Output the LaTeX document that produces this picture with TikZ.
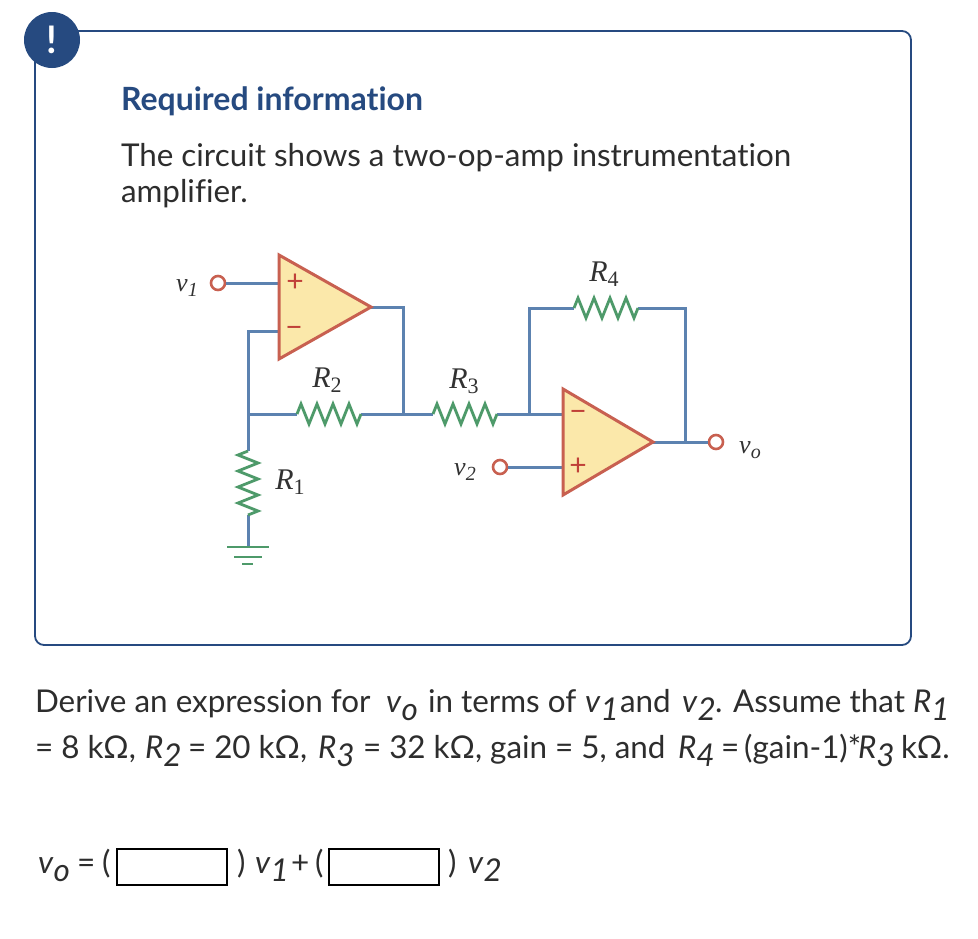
\documentclass[tikz,border=0pt]{standalone}
\usepackage{fontspec}
\setmainfont{Lato}[Ligatures=NoCommon]
\newfontfamily\labelfont{Liberation Serif}
\usetikzlibrary{decorations.pathmorphing}
\newcommand{\symb}[2]{\textit{#1}\raisebox{-8pt}{\textit{#2}}}
\newcommand{\clabel}[2]{{\labelfont\itshape #1\raisebox{-5pt}{\fontsize{22}{22}\selectfont\upshape #2}}}
\newcommand{\vlabel}[2]{{\labelfont\itshape\fontsize{26}{26}\selectfont #1\raisebox{-5pt}{\fontsize{20}{20}\selectfont #2}}}
\tikzset{
  wire/.style={draw=wireColor,line width=3pt,line join=miter},
  resistor/.style={draw=resColor,line width=2.8pt,decorate,decoration={zigzag,segment length=16pt,amplitude=10pt}},
  groundbar/.style={draw=resColor,line width=2.2pt},
  opamp/.style={draw=opColor,fill=opFill,line width=3pt,line join=miter},
  terminal/.style={circle,draw=opColor,fill=white,line width=2.6pt,minimum size=14pt,inner sep=0pt},
  sign/.style={text=signColor,inner sep=0pt,outer sep=0pt,font=\fontsize{30}{30}\selectfont},
  body/.style={text=textColor,anchor=base west,inner sep=0pt,outer sep=0pt,font=\fontsize{31.4}{31.4}\selectfont},
  circlabel/.style={text=labelColor,anchor=base,inner sep=0pt,outer sep=0pt,font=\fontsize{30}{30}\selectfont},
  answerbox/.style={draw=black,line width=1.5pt}
}
\begin{document}
\begin{tikzpicture}[x=1pt,y=-1pt]
\definecolor{frameColor}{RGB}{38,74,128}
\definecolor{wireColor}{RGB}{92,130,176}
\definecolor{resColor}{RGB}{78,154,106}
\definecolor{opColor}{RGB}{200,96,80}
\definecolor{signColor}{RGB}{192,64,56}
\definecolor{opFill}{RGB}{251,232,170}
\definecolor{textColor}{RGB}{45,45,45}
\definecolor{labelColor}{RGB}{50,50,50}
\path[use as bounding box,fill=white] (0,0) rectangle (978,938);

\path[draw=frameColor,line width=1.8pt,rounded corners=9pt] (35,31) rectangle (911,645);
\node[circle,fill=frameColor,minimum size=56pt,inner sep=0pt] (alert) at (52,40) {};
\node[text=white,inner sep=0pt,font=\fontsize{38}{38}\selectfont\bfseries] (mark) at (52,40) {!};

\node[text=frameColor,anchor=base west,inner sep=0pt,outer sep=0pt,font=\fontsize{32}{32}\selectfont\bfseries] (title) at (121,110) {Required information};
\node[body] (intro) at (121,166) {The circuit shows a two-op-amp instrumentation};
\node[body] (introb) at (121,202) {amplifier.};

\coordinate (opatop) at (279,255);
\coordinate (opabot) at (279,359);
\coordinate (opatip) at (371,307);
\coordinate (opaplus) at (279,283);
\coordinate (opaminus) at (279,331);
\coordinate (opbtop) at (563,389);
\coordinate (opbbot) at (563,495);
\coordinate (opbtip) at (653,442);
\coordinate (opbminus) at (563,414);
\coordinate (opbplus) at (563,467);

\coordinate (nodeneg) at (248,414);
\coordinate (cornerneg) at (248,331);
\coordinate (rawest) at (248,451);
\coordinate (raeast) at (248,515);
\coordinate (gnd) at (248,547);
\coordinate (rbwest) at (297,414);
\coordinate (rbeast) at (361,414);
\coordinate (nodemid) at (403,414);
\coordinate (cornermid) at (403,307);
\coordinate (rcwest) at (433,414);
\coordinate (rceast) at (497,414);
\coordinate (nodefb) at (529,414);
\coordinate (cornerfb) at (529,308);
\coordinate (rdwest) at (574,308);
\coordinate (rdeast) at (638,308);
\coordinate (cornerout) at (685,308);
\coordinate (nodeout) at (685,442);

\node[terminal] (vone) at (218,283) {};
\node[terminal] (vtwo) at (500,467) {};
\node[terminal] (vout) at (716,442) {};

\path[wire] (vone) -- (opaplus);
\path[wire] (opaminus) -- (cornerneg) -- (rawest);
\path[wire] (raeast) -- (gnd);
\path[wire] (nodeneg) -- (rbwest);
\path[wire] (rbeast) -- (rcwest);
\path[wire] (opatip) -- (cornermid) -- (nodemid);
\path[wire] (rceast) -- (opbminus);
\path[wire] (nodefb) -- (cornerfb) -- (rdwest);
\path[wire] (rdeast) -- (cornerout) -- (nodeout);
\path[wire] (vtwo) -- (opbplus);
\path[wire] (opbtip) -- (vout);

\path[resistor,decoration={mirror}] (rawest) -- (raeast);
\path[resistor] (rbwest) -- (rbeast);
\path[resistor] (rcwest) -- (rceast);
\path[resistor] (rdwest) -- (rdeast);

\path[groundbar] (227,547) -- (269,547);
\path[groundbar] (234,557) -- (262,557);
\path[groundbar] (242,564) -- (253,564);

\path[opamp] (opatop) -- (opatip) -- (opabot) -- cycle;
\path[opamp] (opbtop) -- (opbtip) -- (opbbot) -- cycle;
\node[sign] (plusa) at (295,283) {+};
\node[sign] (minusa) at (294,332) {−};
\node[sign] (minusb) at (578,416) {−};
\node[sign] (plusb) at (578,467) {+};

\node[circlabel] (labvone) at (187,291) {\vlabel{v}{1}};
\node[circlabel] (labvtwo) at (465,475) {\vlabel{v}{2}};
\node[circlabel] (labvout) at (750,453) {\vlabel{v}{o}};
\node[circlabel] (labra) at (290,489) {\clabel{R}{1}};
\node[circlabel] (labrb) at (327,387) {\clabel{R}{2}};
\node[circlabel] (labrc) at (464,388) {\clabel{R}{3}};
\node[circlabel] (labrd) at (604,281) {\clabel{R}{4}};

\node[body] (derive) at (35,712) {Derive an expression for};
\node[body] (lvo) at (386,712) {\symb{v}{o}};
\node[body] (terms) at (428,712) {in terms of};
\node[body] (lvone) at (585,712) {\symb{v}{1}};
\node[body] (andw) at (620,712) {and};
\node[body] (lvtwo) at (682,712) {\symb{v}{2}};
\node[body] (assume) at (715,712) {. Assume that};
\node[body] (lra) at (913,712) {\symb{R}{1}};

\node[body] (eqa) at (35,758) {= 8 kΩ,};
\node[body] (lrb) at (145,758) {\symb{R}{2}};
\node[body] (eqb) at (188,758) {= 20 kΩ,};
\node[body] (lrc) at (318,758) {\symb{R}{3}};
\node[body] (eqc) at (363,758) {= 32 kΩ, gain = 5, and};
\node[body] (lrd) at (678,758) {\symb{R}{4}};
\node[body] (eqd) at (721,758) {=\hspace{5pt}(gain-1)*};
\node[body] (lre) at (858,758) {\symb{R}{3}};
\node[body] (eqe) at (901,758) {kΩ.};

\node[body] (ansvo) at (38,873) {\symb{v}{o}};
\node[body] (anseq) at (77,873) {=};
\node[body] (ansopa) at (102,873) {(};
\path[answerbox] (117,849) rectangle (227,885);
\node[body] (ansclosea) at (237,873) {)};
\node[body] (ansvone) at (255,873) {\symb{v}{1}};
\node[body] (ansplus) at (291,873) {+};
\node[body] (ansopb) at (315,873) {(};
\path[answerbox] (329,849) rectangle (439,885);
\node[body] (anscloseb) at (448,873) {)};
\node[body] (ansvtwo) at (468,873) {\symb{v}{2}};
\end{tikzpicture}
\end{document}
